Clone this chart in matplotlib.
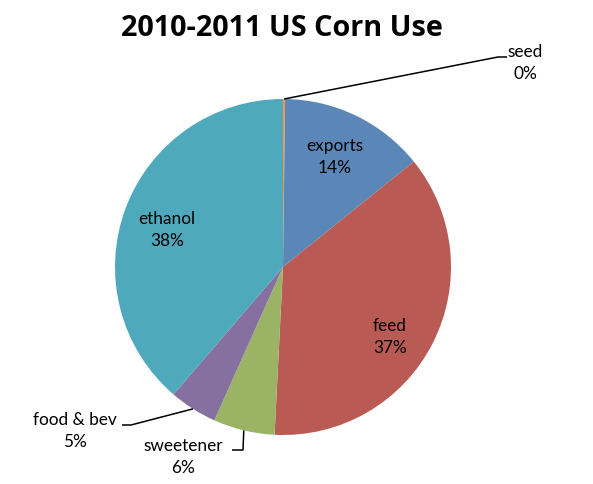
import numpy as np
import matplotlib
matplotlib.use("Agg")
import matplotlib.pyplot as plt

# Corn use shares (percent), clockwise from 12 o'clock
categories = ["seed", "exports", "feed", "sweetener", "food & bev", "ethanol"]
shares = [0.2, 14.0, 36.6, 5.9, 4.6, 38.7]
pct_labels = ["0%", "14%", "37%", "6%", "5%", "38%"]

colors = ["#F79646", "#5A87B7", "#B95B54", "#9BB365", "#8570A0", "#4FA9BC"]

W, H = 593, 484


def py(y):
    # pixel row (from top) -> data y
    return H - y


fig = plt.figure(figsize=(W / 100, H / 100), dpi=100)
ax = fig.add_axes([0, 0, 1, 1])

cx, cy, r = 283, 267, 168
wedges, _ = ax.pie(shares, colors=colors, startangle=90, counterclock=False,
                   center=(cx, py(cy)), radius=r, frame=True,
                   wedgeprops=dict(linewidth=0))
ax.set_xlim(0, W)
ax.set_ylim(0, H)
ax.set_aspect("equal")
ax.axis("off")

font = dict(family=["Lato", "DejaVu Sans"], fontsize=12.4, color="black",
            ha="center", va="center")

# label positions in pixel coords (x, y of the name line)
label_pos = {
    "seed": (525, 52),
    "exports": (335, 146),
    "feed": (390, 326),
    "sweetener": (183, 446),
    "food & bev": (75, 420),
    "ethanol": (167, 219),
}
for name, pct in zip(categories, pct_labels):
    x, y = label_pos[name]
    ax.text(x, py(y), name, **font)
    ax.text(x, py(y + 22), pct, **font)


def edge_point(w):
    ang = np.deg2rad((w.theta1 + w.theta2) / 2)
    return cx + r * np.cos(ang), py(cy) + r * np.sin(ang)


# leader lines for the small slices
leaders = {
    "seed": [(498, 57), (507, 57)],
    "sweetener": [(243, 450), (232, 450)],
    "food & bev": [(131, 425), (122, 425)],
}
for name, pts in leaders.items():
    w = wedges[categories.index(name)]
    x0, y0 = edge_point(w)
    xs = [x0] + [p[0] for p in pts]
    ys = [y0] + [py(p[1]) for p in pts]
    ax.plot(xs, ys, color="black", lw=1.1, solid_capstyle="butt")

ax.text(282, py(29), "2010-2011 US Corn Use", ha="center", va="center",
        fontsize=20.8, fontweight="bold", family=["Open Sans", "DejaVu Sans"])

fig.savefig("out.png", dpi=100)
